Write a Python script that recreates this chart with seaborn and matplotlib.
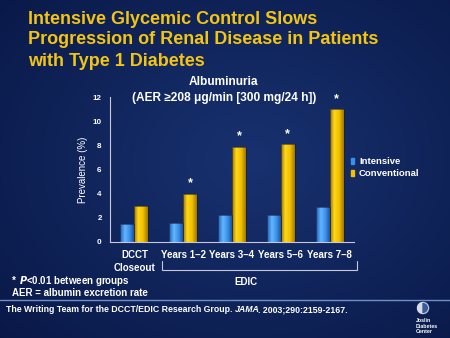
import numpy as np
import pandas as pd
import matplotlib
matplotlib.use("Agg")
import matplotlib.pyplot as plt
from matplotlib.colors import LinearSegmentedColormap
from matplotlib.patches import Wedge, Circle, Rectangle
import seaborn as sns

# Prevalence of albuminuria (%) by study period
periods = ["DCCT\nCloseout", "Years 1\u20132", "Years 3\u20134", "Years 5\u20136", "Years 7\u20138"]
intensive = [1.5, 1.6, 2.2, 2.2, 2.9]
conventional = [3.0, 4.0, 7.9, 8.1, 11.0]
significant = [False, True, True, True, True]
groups = ["Intensive", "Conventional"]
y_ticks = [0, 2, 4, 6, 8, 10, 12]

df = pd.DataFrame({
    "period": periods * 2,
    "group": [groups[0]] * len(periods) + [groups[1]] * len(periods),
    "value": intensive + conventional,
})

sns.set_theme(style="white")
plt.rcParams["font.family"] = ["Liberation Sans", "DejaVu Sans"]
plt.rcParams["font.weight"] = "bold"

W, H = 450, 338
fig = plt.figure(figsize=(W / 100, H / 100), dpi=100)

# slide background: navy with a soft lighter centre
bg = fig.add_axes([0, 0, 1, 1], zorder=-10)
yy, xx = np.mgrid[0:H, 0:W]
r = np.sqrt(((xx - 250) / 260.0) ** 2 + ((yy - 160) / 200.0) ** 2)
t = np.clip(r, 0, 1.4) / 1.4
c_in = np.array([24, 50, 112]) / 255.0
c_out = np.array([8, 22, 68]) / 255.0
img = c_in[None, None, :] * (1 - t[..., None]) + c_out[None, None, :] * t[..., None]
bg.imshow(img, extent=[0, W, H, 0], aspect="auto")
bg.set_xlim(0, W)
bg.set_ylim(H, 0)
bg.axis("off")
bg.plot([0, W], [300, 300], color="#6f8fc8", lw=1.0)

yellow = "#f2c414"
title_lines = ["Intensive Glycemic Control Slows",
               "Progression of Renal Disease in Patients",
               "with Type 1 Diabetes"]
for i, line in enumerate(title_lines):
    bg.text(28, 19 + i * 21, line, color=yellow, fontsize=13.0, fontweight="bold",
            va="center", ha="left")

bg.text(223, 82, "Albuminuria", color="white", fontsize=8.6, ha="center", va="center")
bg.text(224, 98, "(AER \u2265208 \u03bcg/min [300 mg/24 h])", color="white", fontsize=8.6,
        ha="center", va="center")

# main axes
ax = fig.add_axes([110 / W, 1 - 242 / H, 244 / W, 145 / H])
ax.set_facecolor("none")
palette = {"Intensive": "#3a8fe8", "Conventional": "#f2c000"}
sns.barplot(data=df, x="period", y="value", hue="group", palette=palette,
            width=0.57, gap=0, saturation=1, ax=ax, legend=False)

# cylinder-like shading on each bar
shades = {
    "Intensive": LinearSegmentedColormap.from_list(
        "blu", [(0, "#1d5fb8"), (0.35, "#62b6ff"), (0.7, "#3a8fe8"), (1, "#1a55a8")]),
    "Conventional": LinearSegmentedColormap.from_list(
        "gld", [(0, "#9a7400"), (0.3, "#ffd81a"), (0.65, "#f2c000"), (1, "#a07800")]),
}
grad = np.linspace(0, 1, 64)[None, :]
n = len(periods)
for k, p in enumerate(list(ax.patches)[: 2 * n]):
    g = groups[k // n]
    x0, w, h = p.get_x(), p.get_width(), p.get_height()
    p.set_facecolor("none")
    p.set_edgecolor("#1a1a30")
    p.set_linewidth(0.4)
    im = ax.imshow(grad, cmap=shades[g], extent=[x0, x0 + w, 0, h], aspect="auto",
                   zorder=p.get_zorder() - 0.1)
    im.set_clip_path(p)

ax.set_xlim(-0.5, n - 0.5)
ax.set_ylim(0, 12)
ax.set_aspect("auto")
ax.set_yticks(y_ticks)
ax.set_yticklabels([str(v) for v in y_ticks], color="white", fontsize=5.8)
ax.set_xticks(range(n))
ax.set_xticklabels(periods, color="white", fontsize=7, linespacing=1.35)
ax.set_xticks(np.arange(-0.5, n, 1.0), minor=True)
ax.tick_params(axis="x", which="major", length=0, pad=6)
ax.tick_params(axis="x", which="minor", length=3, color="#c8c8d8", width=0.8, direction="out")
ax.tick_params(axis="y", length=3, color="#c8c8d8", width=0.8, direction="out", pad=3)
for side in ["top", "right"]:
    ax.spines[side].set_visible(False)
for side in ["left", "bottom"]:
    ax.spines[side].set_color("#c8c8d8")
    ax.spines[side].set_linewidth(0.8)
ax.set_xlabel("")
ax.set_ylabel("Prevalence (%)", color="white", fontsize=7, labelpad=3)

# significance markers
for i, (v, s) in enumerate(zip(conventional, significant)):
    if s:
        ax.text(i + 0.285 / 2, v + 0.35, "*", color="white", fontsize=9,
                ha="center", va="bottom")

# legend
for g, yv in zip(groups, [161, 173]):
    bg.add_patch(Rectangle((351, yv - 3), 3, 6, color=palette[g]))
    bg.text(359, yv, g, color="white", fontsize=6.8, va="center", ha="left")

# EDIC bracket
bg.plot([162, 162, 357, 357], [261, 270, 270, 261], color="#c8c8d8", lw=0.8)
bg.text(246, 282, "EDIC", color="white", fontsize=7, ha="center", va="center")

# footnotes
bg.text(12, 281, "* ", color="white", fontsize=7, va="center", ha="left")
bg.text(19, 281, "$\\mathbfit{P}$<0.01 between groups", color="white", fontsize=7,
        va="center", ha="left")
bg.text(12, 293, "AER = albumin excretion rate", color="white", fontsize=7,
        va="center", ha="left")

# reference line with italic journal name
fs_ref = 6.3
ref_a = bg.text(6, 310, "The Writing Team for the DCCT/EDIC Research Group. ",
                color="white", fontsize=fs_ref, va="center", ha="left")
fig.canvas.draw()
bb = ref_a.get_window_extent()
x1 = bg.transData.inverted().transform((bb.x1, bb.y0))[0]
ref_b = bg.text(x1, 310, "JAMA", color="white", fontsize=fs_ref, style="italic",
                va="center", ha="left")
fig.canvas.draw()
bb = ref_b.get_window_extent()
x2 = bg.transData.inverted().transform((bb.x1, bb.y0))[0] - 1.5
bg.text(x2, 310, ". 2003;290:2159-2167.", color="white", fontsize=fs_ref,
        va="center", ha="left")

# logo
bg.add_patch(Circle((423, 308), 5.5, color="#d8dce8"))
bg.add_patch(Wedge((423, 308), 5.5, 270, 90, color="#3a5a9a"))
bg.add_patch(Circle((423, 308), 5.5, fill=False, ec="#d8dce8", lw=0.6))
bg.text(416, 326, "Joslin\nDiabetes\nCenter", color="white", fontsize=3.8,
        va="center", ha="left", linespacing=1.2)

fig.savefig("out.png", dpi=100)
